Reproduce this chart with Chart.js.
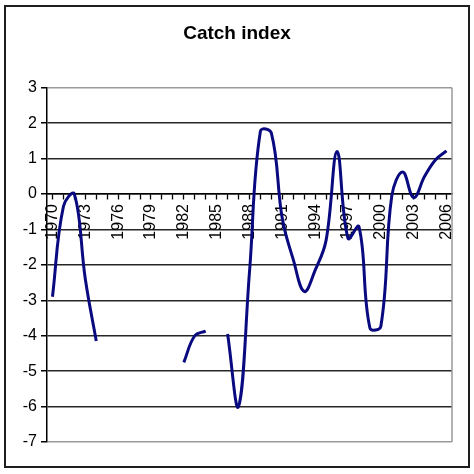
<!DOCTYPE html>
<html>
<head>
<meta charset="utf-8">
<script src="https://cdn.jsdelivr.net/npm/chart.js@4.4.1/dist/chart.umd.min.js"></script>
<style>
  body { margin: 0; background: #fff; }
  #wrap { position: absolute; left: 0; top: 0; width: 474px; height: 474px; }
</style>
</head>
<body>
<div id="wrap">
  <canvas id="catch-chart" width="474" height="474"></canvas>
</div>

<script>
// Years on the category axis
var years = [];
for (var y = 1970; y <= 2006; y++) years.push(String(y));

// Catch index, null where the series has a gap
var catchIndex = [
  -2.9, -0.35, 0.0, -2.4, -4.15,          // 1970-1974
  null, null, null, null, null, null, null, // 1975-1981
  -4.75, -4.0, -3.87,                      // 1982-1984
  null,                                    // 1985
  -3.95, -6.0, -2.2, 1.78, 1.72,           // 1986-1990
  -0.7, -1.85, -2.75, -2.15, -1.3,         // 1991-1995
  1.2, -1.25, -0.92, -3.78, -3.73,         // 1996-2000
  -0.05, 0.62, -0.1, 0.5, 0.97, 1.22       // 2001-2006
];

var yMin = -7, yMax = 3;

Chart.defaults.font.family = "'Liberation Sans', Arial, sans-serif";
Chart.defaults.color = "#000";

// outer frame and the grey right edge of the plot area
var framePlugin = {
  id: "frame",
  beforeDatasetsDraw: function (chart) {
    var ctx = chart.ctx, a = chart.chartArea;
    ctx.save();
    ctx.strokeStyle = "#9a9a9a";
    ctx.lineWidth = 1.5;
    ctx.beginPath();
    ctx.moveTo(a.right, a.top);
    ctx.lineTo(a.right, a.bottom);
    ctx.stroke();
    ctx.restore();
  },
  afterDraw: function (chart) {
    var ctx = chart.ctx;
    ctx.save();
    ctx.strokeStyle = "#1e1e1e";
    ctx.lineWidth = 2;
    ctx.strokeRect(5, 6, 464, 461);
    ctx.restore();
  }
};

var ctx = document.getElementById("catch-chart");

var chart = new Chart(ctx, {
  type: "line",
  data: {
    labels: years,
    datasets: [{
      label: "Catch index",
      data: catchIndex,
      borderColor: "#0a0a80",
      borderWidth: 3,
      pointRadius: 0,
      fill: false,
      tension: 0.4,
      spanGaps: false
    }]
  },
  options: {
    responsive: false,
    animation: false,
    layout: { padding: { top: 8, left: 0, right: 0, bottom: 32 } },
    plugins: {
      legend: { display: false },
      tooltip: { enabled: false },
      title: {
        display: true,
        text: "Catch index",
        font: { size: 19, weight: "bold" },
        color: "#000",
        padding: { top: 14, bottom: 43 }
      }
    },
    scales: {
      x: {
        type: "category",
        position: { y: 0 },
        offset: true,
        grid: {
          drawOnChartArea: false,
          drawTicks: true,
          tickLength: 5,
          tickColor: "#000",
          tickWidth: 1.3
        },
        border: { color: "#000", width: 1.5 },
        ticks: {
          autoSkip: false,
          minRotation: 90,
          maxRotation: 90,
          padding: 5,
          font: { size: 16 },
          callback: function (value, index) {
            return index % 3 === 0 ? this.getLabelForValue(value) : "";
          }
        }
      },
      y: {
        min: yMin,
        max: yMax,
        afterFit: function (scale) { scale.width = 47; },
        grid: {
          color: function (c) {
            var v = c.tick ? c.tick.value : 0;
            return (v === yMax || v === yMin) ? "#9a9a9a" : "#262626";
          },
          lineWidth: 1.5,
          tickLength: 6,
          tickColor: "#000"
        },
        border: { color: "#000", width: 1.5 },
        ticks: {
          stepSize: 1,
          padding: 4,
          font: { size: 16 }
        }
      },
      // empty right-hand axis that only keeps the margin, so the title stays centred on the page
      yRight: {
        position: "right",
        min: yMin,
        max: yMax,
        afterFit: function (scale) { scale.width = 22; },
        grid: { display: false },
        border: { display: false },
        ticks: { display: false }
      }
    }
  },
  plugins: [framePlugin]
});
</script>
</body>
</html>
